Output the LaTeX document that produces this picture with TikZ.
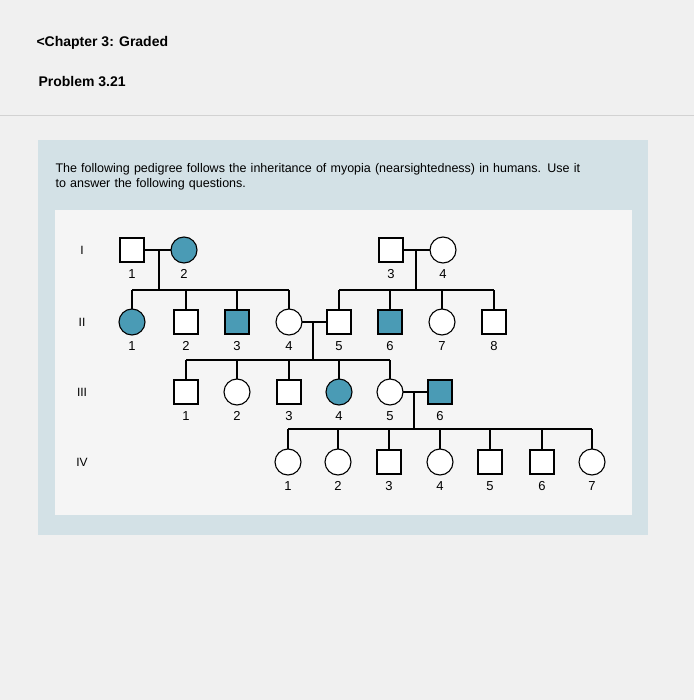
\documentclass[tikz,border=0pt]{standalone}
\usepackage{fontspec}
\setmainfont{Liberation Sans}
\begin{document}
\begin{tikzpicture}[x=1pt,y=-1pt,
  m/.style={draw=black,line width=1.1pt,minimum size=24pt,inner sep=0pt,fill=white},
  f/.style={m,circle,minimum size=26pt},
  lab/.style={font=\fontsize{13}{13}\selectfont},
  ln/.style={line width=1.1pt}]
\definecolor{aff}{HTML}{4A9BB5}
\tikzset{aff/.style={fill=aff}}
\fill[gray!12] (0,0) rectangle (694,700);
\useasboundingbox (0,0) rectangle (694,700);
\draw[gray!35] (0,115) -- (694,115);
\node[anchor=west,font=\bfseries\fontsize{14}{14}\selectfont] (h1) at (33,43) {\textless Chapter 3: Graded};
\node[anchor=west,font=\bfseries\fontsize{14}{14}\selectfont] (h2) at (35,82) {Problem 3.21};
\fill[cyan!30!gray!30] (38,140) rectangle (648,535);
\fill[gray!8] (55,210) rectangle (632,515);
\node[anchor=north west,align=left,text width=600pt,font=\fontsize{12.5}{15}\selectfont] (p) at (52,160) {\raggedright The following pedigree follows the inheritance of myopia (nearsightedness) in humans. Use it\\ to answer the following questions.};
\foreach \t/\yy in {I/250,II/322,III/392,IV/462}
  \node[font=\fontsize{12}{12}\selectfont] (g\t) at (82,\yy) {\t};
% lines
\draw[ln] (132,250) -- (184,250);
\draw[ln] (391,250) -- (443,250);
\draw[ln] (159,250) -- (159,290);
\draw[ln] (416,250) -- (416,290);
\draw[ln] (132,290) -- (289,290);
\draw[ln] (339,290) -- (494,290);
\foreach \x in {132,186,237,289} \draw[ln] (\x,290) -- (\x,322);
\foreach \x in {339,390,442,494} \draw[ln] (\x,290) -- (\x,322);
\draw[ln] (289,322) -- (339,322);
\draw[ln] (313,322) -- (313,360);
\draw[ln] (186,360) -- (390,360);
\foreach \x in {186,237,289,339,390} \draw[ln] (\x,360) -- (\x,392);
\draw[ln] (390,392) -- (440,392);
\draw[ln] (414,392) -- (414,429);
\draw[ln] (288,429) -- (592,429);
\foreach \x in {288,338,389,440,490,542,592} \draw[ln] (\x,429) -- (\x,462);
% Gen I
\node[m] (a1) at (132,250) {};
\node[f,aff] (a2) at (184,250) {};
\node[m] (a3) at (391,250) {};
\node[f] (a4) at (443,250) {};
% Gen II
\node[f,aff] (b1) at (132,322) {};
\node[m] (b2) at (186,322) {};
\node[m,aff] (b3) at (237,322) {};
\node[f] (b4) at (289,322) {};
\node[m] (b5) at (339,322) {};
\node[m,aff] (b6) at (390,322) {};
\node[f] (b7) at (442,322) {};
\node[m] (b8) at (494,322) {};
% Gen III
\node[m] (c1) at (186,392) {};
\node[f] (c2) at (237,392) {};
\node[m] (c3) at (289,392) {};
\node[f,aff] (c4) at (339,392) {};
\node[f] (c5) at (390,392) {};
\node[m,aff] (c6) at (440,392) {};
% Gen IV
\node[f] (d1) at (288,462) {};
\node[f] (d2) at (338,462) {};
\node[m] (d3) at (389,462) {};
\node[f] (d4) at (440,462) {};
\node[m] (d5) at (490,462) {};
\node[m] (d6) at (542,462) {};
\node[f] (d7) at (592,462) {};
% labels
\foreach \n/\t in {a1/1,a2/2,a3/3,a4/4,b1/1,b2/2,b3/3,b4/4,b5/5,b6/6,b7/7,b8/8,c1/1,c2/2,c3/3,c4/4,c5/5,c6/6,d1/1,d2/2,d3/3,d4/4,d5/5,d6/6,d7/7}
  \node[lab] (l\n) at ([yshift=-24pt]\n.center) {\t};
\end{tikzpicture}
\end{document}
